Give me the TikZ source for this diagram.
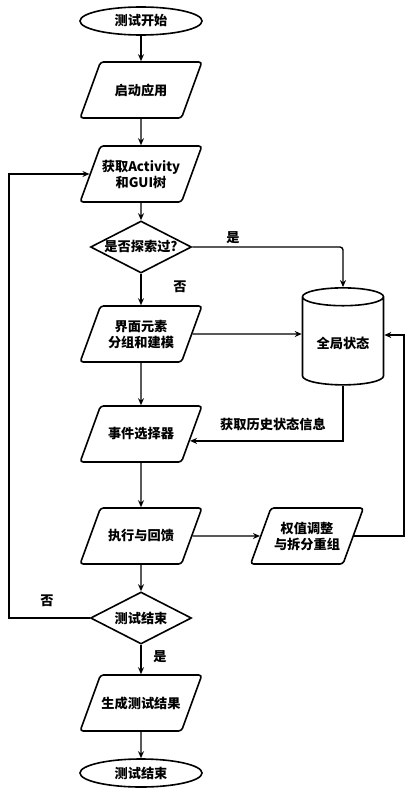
\documentclass[tikz,border=0pt]{standalone}
\usepackage{fontspec}
\setmainfont{Noto Sans CJK SC}
\usetikzlibrary{shapes.geometric,arrows.meta}

% text box of a data block: fixed size, so that all blocks come out alike
\newcommand\iobox[2][81pt]{\parbox[c][56pt][c]{#1}{\centering #2}}

\begin{document}
\begin{tikzpicture}[
  x=1pt, y=-1pt,
  font=\fontsize{13.2}{16}\selectfont\bfseries,
  terminal/.style = {ellipse, draw, line width=1.6pt, minimum width=122pt, minimum height=28pt, inner sep=0pt},
  io/.style       = {trapezium, trapezium left angle=70, trapezium right angle=110, draw, line width=1.6pt,
                     rounded corners=3pt, inner sep=0pt},
  decide/.style   = {diamond, draw, line width=1.6pt, aspect=2, minimum width=101pt, minimum height=52pt, inner sep=0pt},
  store/.style    = {cylinder, shape border rotate=90, draw, line width=1.6pt, aspect=0.3,
                     minimum width=81pt, minimum height=97pt},
  arr/.style      = {-{Stealth[length=7pt,width=6pt]}, line width=1.4pt},
  lbl/.style      = {inner sep=0pt},
]
\useasboundingbox (0,0) rectangle (414,795);

\def\cx{141}    % column x: main flow
\def\gx{343}    % column x: global state
\def\lx{9}      % x of the left return line
\def\rx{404}    % x of the right return line

% ---- main flow -------------------------------------------------------------
\node[terminal] (start)   at (\cx, 21)  {测试开始};
\node[io]       (launch)  at (\cx, 90)  {\iobox{启动应用}};
\node[io]       (acquire) at (\cx, 174) {\iobox{获取Activity\\和GUI树}};
\node[decide]   (seen)    at (\cx, 247) {\makebox[0pt]{是否探索过?}};
\node[io]       (model)   at (\cx, 334) {\iobox{界面元素\\分组和建模}};
\node[io]       (select)  at (\cx, 434) {\iobox{事件选择器}};
\node[io]       (exec)    at (\cx, 536) {\iobox{执行与回馈}};
\node[decide]   (finish)  at (\cx, 618) {\makebox[0pt]{测试结束}};
\node[io]       (result)  at (\cx, 703) {\iobox{\makebox[0pt]{生成测试结果}}};
\node[terminal] (stop)    at (\cx, 773) {测试结束};

% ---- side blocks -----------------------------------------------------------
\node[store] (glob)   at (\gx, 343) {全局状态};
\node[io]    (weight) at (307, 536) {\iobox[72pt]{权值调整\\与拆分重组}};

\coordinate (rback) at (\rx, 335);
\coordinate (lback) at (\lx, 400);

% ---- connectors ------------------------------------------------------------
\draw[arr] (start) -- (launch);
\draw[arr] (launch) -- (acquire);
\draw[arr] (acquire) -- (seen);
\draw[arr, rounded corners=3pt] (seen.east) -| (glob.north);
\draw[arr] (seen) -- (model);
\draw[arr] (model) -- (model -| glob.west);
\draw[arr] (model) -- (select);
\draw[arr] (glob.south) |- (select.-8);
\draw[arr] (select) -- (exec);
\draw[arr] (exec) -- (weight);
\draw[arr] (weight.east) -| (rback) -- (rback -| glob.east);
\draw[arr] (exec) -- (finish);
\draw[arr] (finish.west) -| (lback) |- (acquire.west);
\draw[arr] (finish) -- (result);
\draw[arr] (result) -- (stop);

% ---- labels ----------------------------------------------------------------
\node[lbl] (yes1) at (233, 238) {是};
\node[lbl] (no1)  at (180, 287) {否};
\node[lbl] (hist) at (273, 424) {获取历史状态信息};
\node[lbl] (no2)  at (47, 601)  {否};
\node[lbl] (yes2) at (160, 657) {是};

\end{tikzpicture}
\end{document}
